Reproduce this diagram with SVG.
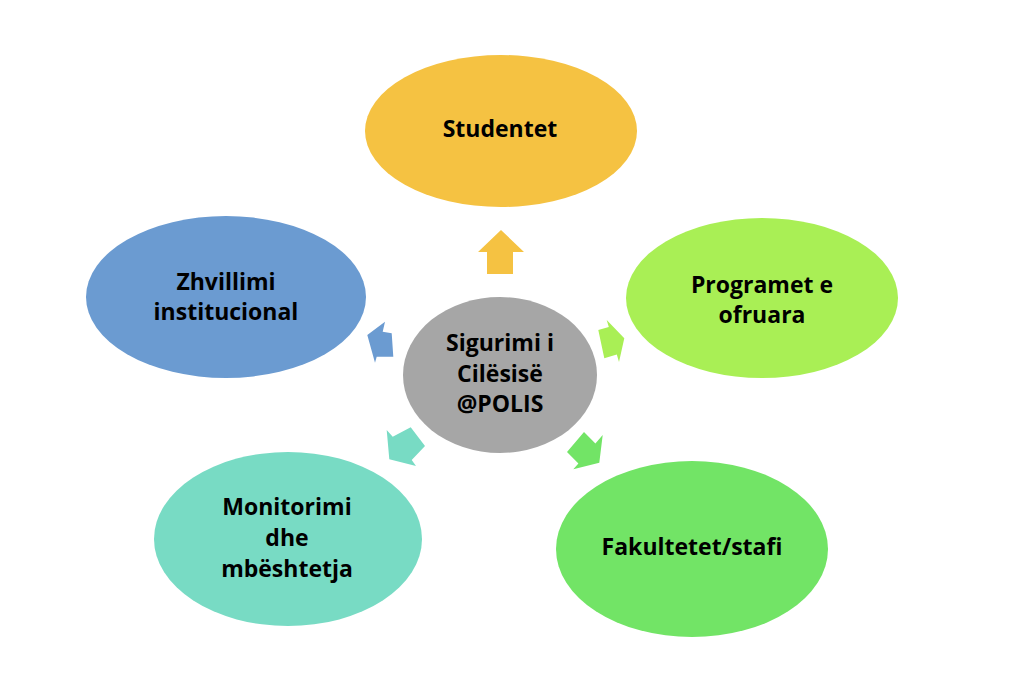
<svg xmlns="http://www.w3.org/2000/svg" width="1024" height="683" viewBox="0 0 1024 683">
<style>
  .lbl { font-family: "Open Sans", "Noto Sans", "DejaVu Sans", sans-serif; font-weight: 700; font-size: 23px; fill: #000; text-anchor: middle; }
</style>
<rect width="1024" height="683" fill="#ffffff"/>
<g id="connectors">
  <polygon fill="#F5C242" points="501,230 524,252 513,252 513,274 487,274 487,252 478,252"/>
  <polygon fill="#A9EF55" points="598.3,330 608.8,326.9 606.7,320 624.3,338.3 619,362 616.8,354.6 604.3,358.3"/>
  <polygon fill="#72E466" points="584,432 595.4,443.4 602.7,435 599.3,462.7 573.3,469.3 578.4,463.4 567,452"/>
  <polygon fill="#78DBC4" points="410.7,427.3 425,446 411.7,460 416,466 389.3,459.3 386.7,430 392.7,436.7"/>
  <polygon fill="#6B9BD1" points="385,321.7 367.3,335 375,362.7 376.7,356.7 393.3,356.7 391.7,333.3 382.7,331.7"/>
</g>
<g id="center">
  <ellipse cx="500" cy="375" rx="97" ry="78" fill="#A6A6A6"/>
  <text class="lbl" x="500" y="351">Sigurimi i</text>
  <text class="lbl" x="500" y="382">Cilësisë</text>
  <text class="lbl" x="500" y="412">@POLIS</text>
</g>
<g id="studentet">
  <ellipse cx="501" cy="131" rx="136" ry="76" fill="#F5C242"/>
  <text class="lbl" x="500" y="137">Studentet</text>
</g>
<g id="programet">
  <ellipse cx="762" cy="298" rx="136" ry="80" fill="#A9EF55"/>
  <text class="lbl" x="762" y="293">Programet e</text>
  <text class="lbl" x="762" y="323">ofruara</text>
</g>
<g id="fakultetet">
  <ellipse cx="692" cy="549" rx="136" ry="88" fill="#72E466"/>
  <text class="lbl" x="692" y="555">Fakultetet/stafi</text>
</g>
<g id="monitorimi">
  <ellipse cx="288" cy="539" rx="134" ry="87" fill="#78DBC4"/>
  <text class="lbl" x="287" y="515">Monitorimi</text>
  <text class="lbl" x="287" y="546">dhe</text>
  <text class="lbl" x="287" y="577">mbështetja</text>
</g>
<g id="zhvillimi">
  <ellipse cx="226" cy="297" rx="140" ry="81" fill="#6B9BD1"/>
  <text class="lbl" x="226" y="290">Zhvillimi</text>
  <text class="lbl" x="226" y="320">institucional</text>
</g>
</svg>
